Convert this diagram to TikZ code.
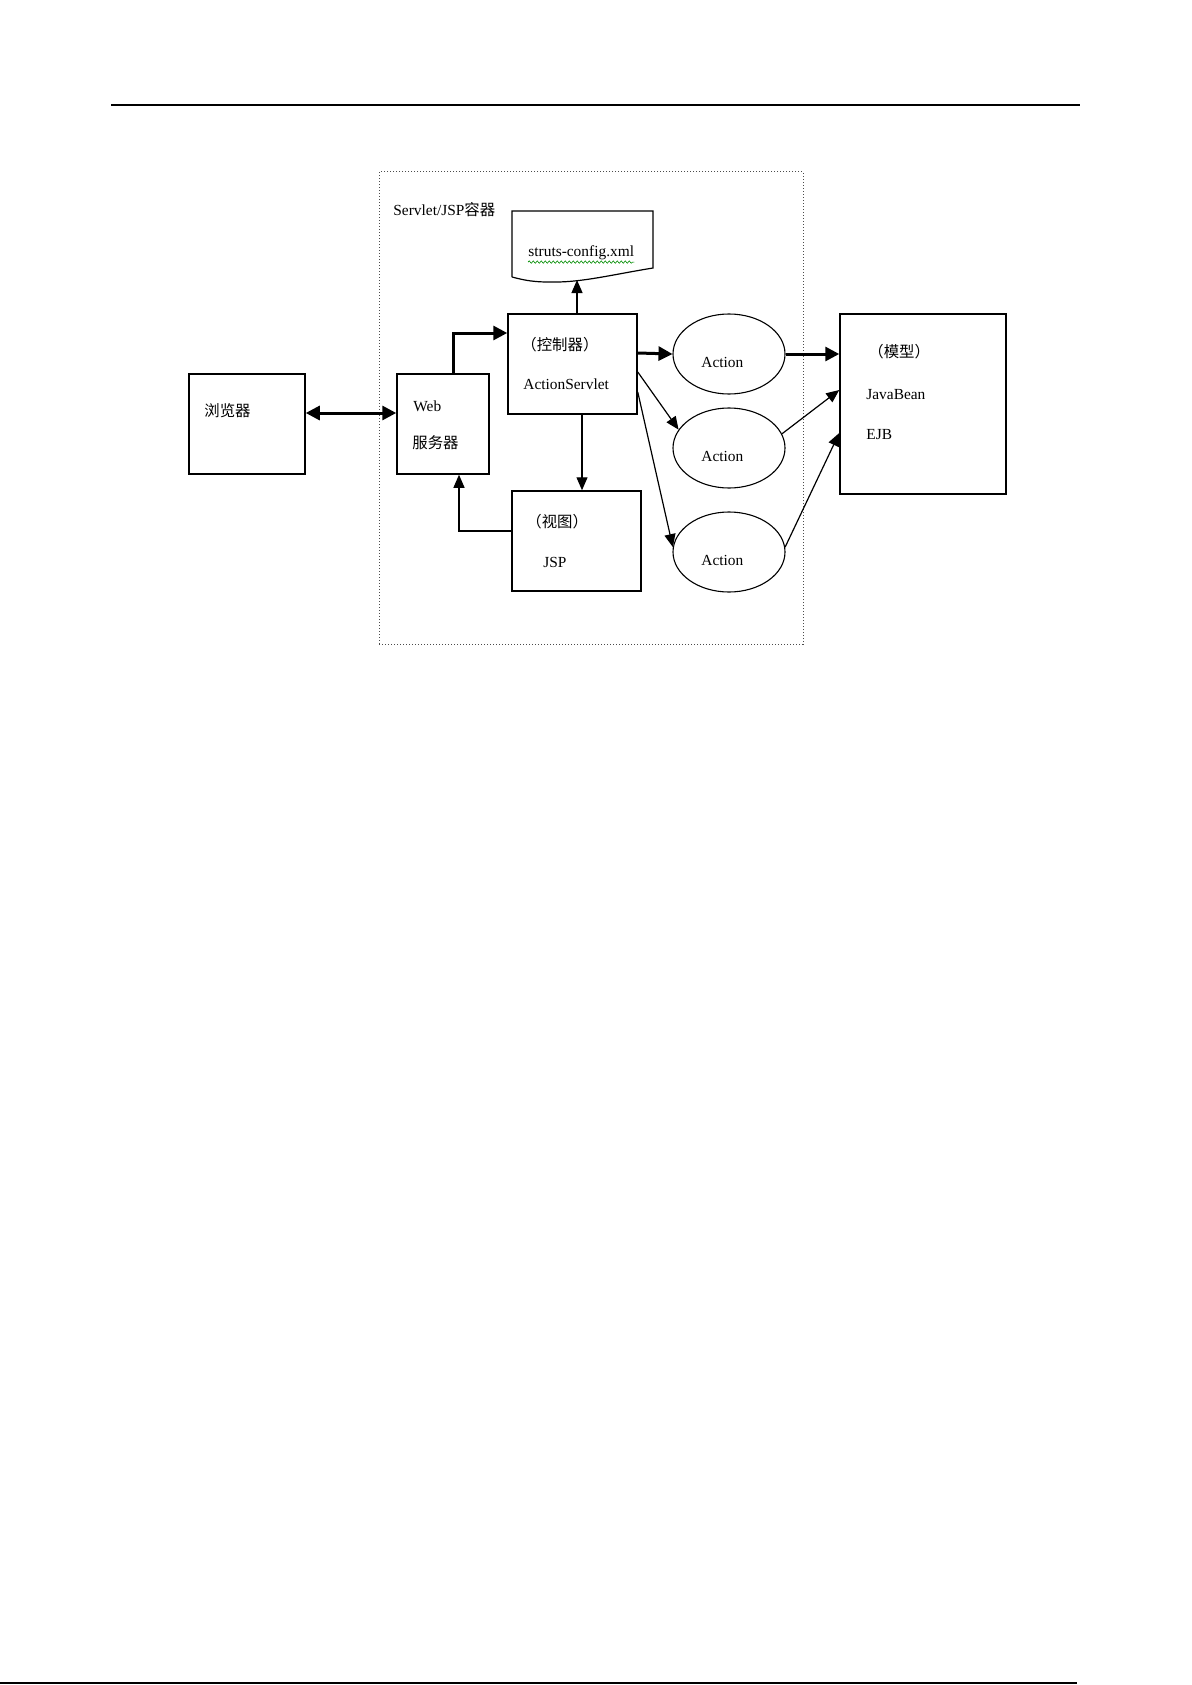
\documentclass[tikz,border=0pt]{standalone}
\usepackage{fontspec}
\setmainfont{Liberation Serif}
\newfontfamily\cjk{Noto Sans CJK SC}
\usepackage{tikz}
\usetikzlibrary{shapes.geometric}
\usetikzlibrary{arrows.meta}
\usetikzlibrary{decorations.pathmorphing}

\tikzset{
  fattip/.tip={Triangle[length=7pt,width=7pt]},
  slimtip/.tip={Triangle[length=6.5pt,width=5.5pt]},
  box/.style={draw=black, line width=0.75pt, inner sep=0pt},
  act/.style={draw=black, ellipse, line width=0.55pt, minimum width=56pt, minimum height=40pt, inner sep=0pt},
  lbl/.style={anchor=west, inner sep=0pt},
  fat/.style={line width=1.5pt, -fattip},
  slim/.style={line width=0.6pt, -slimtip}
}

\begin{document}
\begin{tikzpicture}[x=0.5pt, y=-0.5pt, font=\fontsize{7.7}{9}\selectfont]
        \useasboundingbox (0,0) rectangle (1192,1685);
        \draw[line width=0.75pt] (111,105) -- (1080,105);
        \draw[line width=0.75pt] (0,1683) -- (1077,1683);

        \node(cont) [draw=black!70, densely dotted, line width=0.5pt, minimum width=212pt, minimum height=236pt] at (591,408) {};
        \node(contname) [lbl] at (393,210) {Servlet/JSP{\cjk 容器}};

        \node(br) [box, minimum width=58pt, minimum height=50pt] at (247,424) {};
        \node(web) [box, minimum width=46pt, minimum height=50pt] at (443,424) {};
        \node(ctl) [box, minimum width=64.5pt, minimum height=50pt] at (572.5,364) {};
        \node(view) [box, minimum width=64.5pt, minimum height=50pt] at (576.5,541) {};
        \node(mod) [box, minimum width=83pt, minimum height=90pt] at (923,404) {};

        \node(brname) [lbl] at (204,411) {\cjk 浏览器};
        \node(webname) [lbl] at (413,406) {Web};
        \node(webname2) [lbl] at (412,443) {\cjk 服务器};
        \node(ctlname) [lbl] at (521,345) {\cjk （控制器）};
        \node(ctlname2) [lbl] at (523,384) {ActionServlet};
        \node(viewname) [lbl] at (526,522) {\cjk （视图）};
        \node(viewname2) [lbl] at (543,562) {JSP};
        \node(modname) [lbl] at (868,352) {\cjk （模型）};
        \node(modname2) [lbl] at (866,395) {JavaBean};
        \node(modname3) [lbl] at (866,435) {EJB};

        \node(a1) [act] at (729,354) {};
        \node(a2) [act] at (729,448) {};
        \node(a3) [act] at (729,552) {};
        \node(a1name) [lbl] at (701,362) {Action};
        \node(a2name) [lbl] at (701,456) {Action};
        \node(a3name) [lbl] at (701,560) {Action};

        % struts-config document
        \draw[line width=0.6pt] (512,277) -- (512,211) -- (653,211) -- (653,268)
            .. controls (610,275) and (580,283) .. (548,282)
            .. controls (530,282) and (520,279) .. (512,277);
        \node(cfg) [lbl] at (528,253) {struts-config.xml};
        \draw[green!55!black, line width=0.3pt, decorate, decoration={snake, amplitude=0.6pt, segment length=2pt}]
            ([yshift=-0.8pt]cfg.south west) -- ([yshift=-0.8pt]cfg.south east);
        \coordinate(cfgin) at (577,280);

        \draw[fat, fattip-fattip] ([yshift=5.5pt]br.east) -- ([yshift=5.5pt]web.west);
        \draw[fat] ([xshift=5pt]web.north) |- ([yshift=15.5pt]ctl.west);
        \draw[slim] ([xshift=2.25pt]ctl.north) -- (cfgin);
        \draw[slim] ([xshift=4.75pt]ctl.south) -- ([xshift=2.75pt]view.north);
        \draw[slim] ([yshift=5pt]view.west) -| ([xshift=8pt]web.south);

        \draw[fat] ([yshift=5.5pt]ctl.east) -- (a1.west);
        \draw[slim] ([yshift=-4pt]ctl.east) -- (a2.160);
        \draw[slim] ([yshift=-14pt]ctl.east) -- (a3.175);

        \draw[fat] (a1.east) -- ([yshift=25pt]mod.west);
        \draw[slim] (a2.15) -- ([yshift=7pt]mod.west);
        \draw[slim] (a3.5) -- ([yshift=-14.5pt]mod.west);
\end{tikzpicture}
\end{document}
